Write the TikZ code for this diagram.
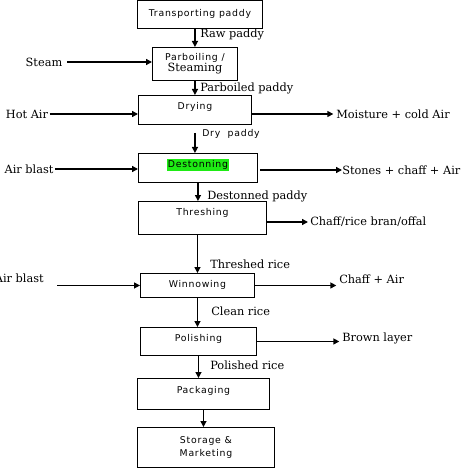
\documentclass[tikz,border=0pt]{standalone}
\usepackage{fontspec}
\usetikzlibrary{arrows.meta, positioning}
\newfontfamily\boxfont[LetterSpace=8]{DejaVu Sans}
\newfontfamily\notefont{DejaVu Serif}
\definecolor{hlgreen}{RGB}{30,235,20}

\begin{document}
\begin{tikzpicture}[x=0.75pt, y=-0.75pt,
    stage/.style={draw, line width=0.7pt, anchor=north west, inner xsep=0pt, inner ysep=0pt, font=\boxfont\fontsize{7}{9}\selectfont},
    note/.style={font=\notefont\fontsize{8.5}{10}\selectfont, inner sep=0pt},
    flow/.style={line width=1pt, -{Triangle[length=4.5pt, width=4.5pt]}}]
    \useasboundingbox (0,0) rectangle (474,474);
    % Process boxes
    \node[stage, minimum width=93.75pt, text height=12pt, text depth=9pt] (transport) at (137,0) {Transporting paddy};
    \node[stage, align=center, minimum width=63.75pt, minimum height=24.75pt] (parboil) at (152,47) {Parboiling /\\[-1pt]{\notefont\fontsize{8.5}{10}\selectfont Steaming}};
    \node[stage, minimum width=84.75pt, text height=10.5pt, text depth=11.25pt] (drying) at (138,95) {Drying};
    \node[stage, minimum width=89.25pt, text height=10.5pt, text depth=11.25pt] (destone) at (138,153) {\setlength{\fboxsep}{1pt}\colorbox{hlgreen}{Destonning}};
    \node[stage, minimum width=96pt, text height=10.5pt, text depth=14.25pt] (thresh) at (138,201) {Threshing};
    \node[stage, minimum width=85.5pt, text height=10.5pt, text depth=7.5pt] (winnow) at (140,273) {Winnowing};
    \node[stage, minimum width=87pt, text height=10.5pt, text depth=10.5pt] (polish) at (140,327) {Polishing};
    \node[stage, minimum width=99pt, text height=11.25pt, text depth=12pt] (pack) at (137,378) {Packaging};
    \node[stage, align=center, minimum width=102.75pt, minimum height=30pt] (store) at (137,427) {Storage \&\\[1pt]Marketing};

    % Inputs and outputs
    \node[note] (steam) at (44,62) {Steam};
    \node[note] (hotair) at (27,114) {Hot Air};
    \node[note] (blast1) at (29,169) {Air blast};
    \node[note, anchor=east] (blast2) at (44,278) {Air blast};
    \node[note, anchor=west] (moist) at (336,114) {Moisture + cold Air};
    \node[note, anchor=west] (stones) at (342,170) {Stones + chaff + Air};
    \node[note, anchor=west] (bran) at (310,222) {Chaff/rice bran/offal};
    \node[note, anchor=west] (chaff) at (339,279) {Chaff + Air};
    \node[note, anchor=west] (brown) at (342,338) {Brown layer};

    % Flow labels
    \node[note, anchor=west] (raw) at (200,34) {Raw paddy};
    \node[note, anchor=west] (parb) at (200,88) {Parboiled paddy};
    \node[note, anchor=west, font=\boxfont\fontsize{7}{9}\selectfont] (dry) at (202,134) {Dry\ \ paddy};
    \node[note, anchor=west] (destoned) at (207,196) {Destonned paddy};
    \node[note, anchor=west] (threshed) at (210,264) {Threshed rice};
    \node[note, anchor=west] (clean) at (211,311) {Clean rice};
    \node[note, anchor=west] (polished) at (210,365) {Polished rice};

    \draw[flow] (transport.south -| parboil.north) -- (parboil.north);
    \draw[flow] (parboil.south) -- (parboil.south |- drying.north);
    \draw[flow, shorten <=6pt] (drying.south) -- (drying.south |- destone.north);
    \draw[flow] (destone.south) -- (destone.south |- thresh.north);
    \draw[flow] (winnow.north |- thresh.south) -- (winnow.north);
    \draw[flow] (winnow.south) -- (winnow.south |- polish.north);
    \draw[flow] (polish.south) -- (polish.south |- pack.north);
    \draw[flow] (pack.south) -- (pack.south |- store.north);

    \draw[flow, shorten <=3.5pt] (steam.east) -- (steam.east -| parboil.west);
    \draw[flow, shorten <=1pt] (hotair.east) -- (hotair.east -| drying.west);
    \draw[flow, shorten >=2pt] (drying.east |- moist.west) -- (moist.west);
    \draw[flow, shorten <=1pt] (blast1.east) -- (blast1.east -| destone.west);
    \draw[flow, shorten <=1.5pt] (destone.east |- stones.west) -- (stones.west);
    \draw[flow, shorten >=1.5pt] (thresh.east |- bran.west) -- (bran.west);
    \draw[flow, shorten <=10pt] (blast2.east |- winnow.west) -- (winnow.west);
    \draw[flow, shorten >=2pt] (winnow.east) -- (winnow.east -| chaff.west);
    \draw[flow, shorten >=2pt] (polish.east) -- (polish.east -| brown.west);
\end{tikzpicture}
\end{document}
